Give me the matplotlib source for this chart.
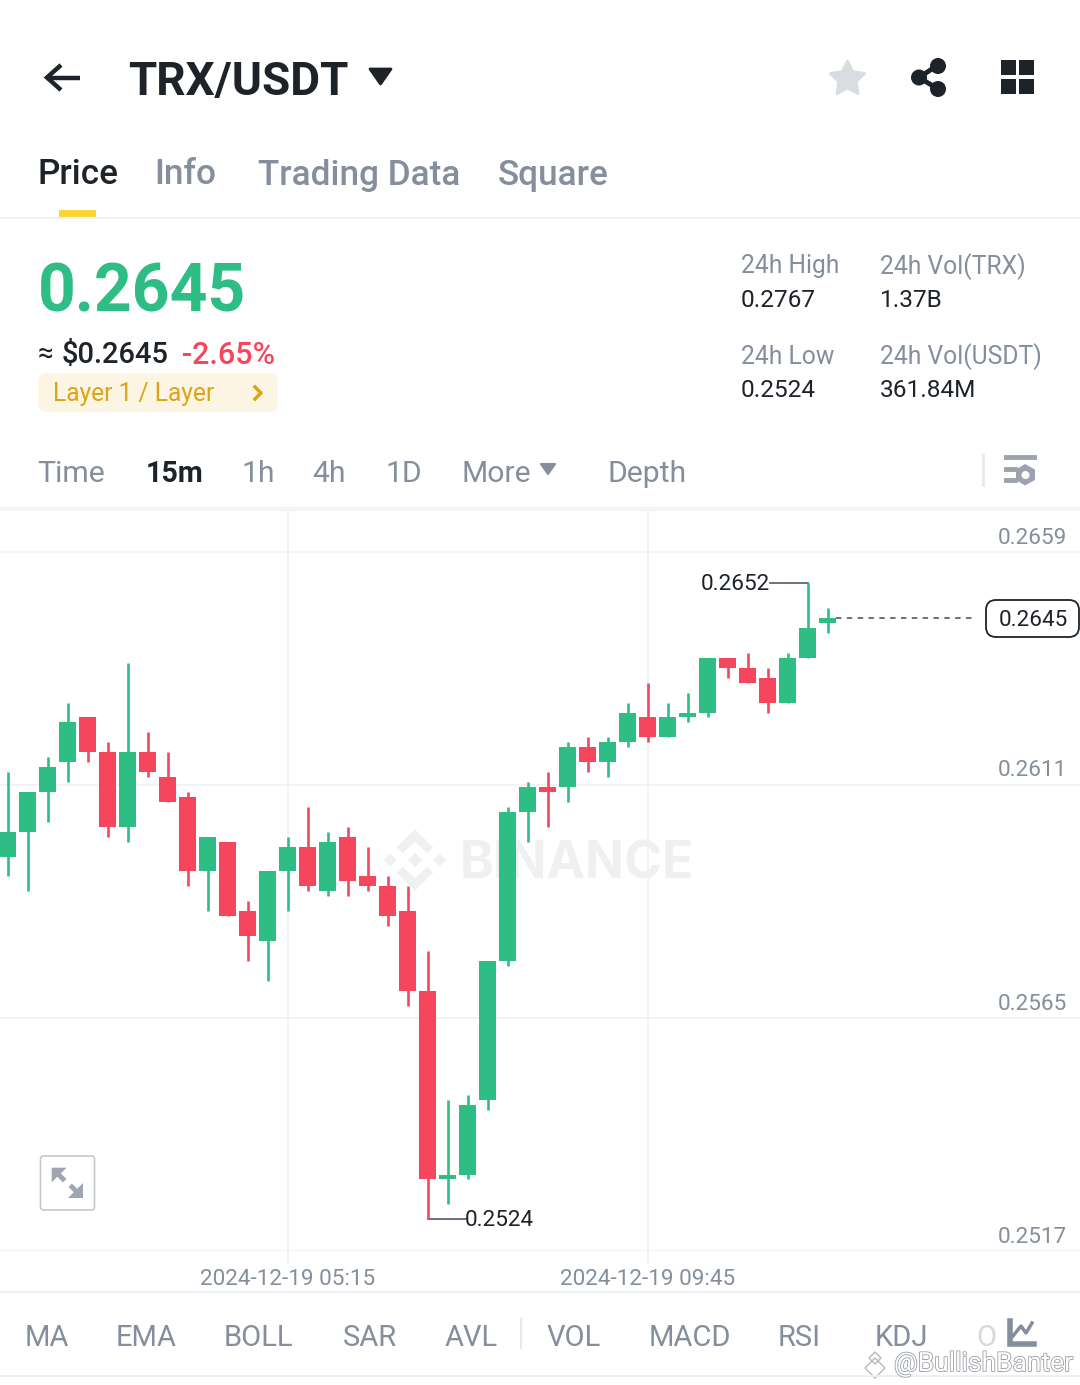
import numpy as np
import matplotlib
matplotlib.use('Agg')
import matplotlib.pyplot as plt
import matplotlib.patheffects as pe
from matplotlib.patches import FancyBboxPatch, Polygon, Rectangle, Circle

plt.rcParams['font.family'] = ['Roboto', 'DejaVu Sans']

# candles, 15m TRX/USDT
opens = [0.2597, 0.2602, 0.2610, 0.2616, 0.2625, 0.2618, 0.2603, 0.2618, 0.2613, 0.2609, 0.2594,
         0.2600, 0.2586, 0.2580, 0.2594, 0.2599, 0.2590, 0.2601, 0.2593, 0.2591, 0.2586, 0.2570,
         0.2532, 0.2533, 0.2548, 0.2576, 0.2606, 0.2611, 0.2611, 0.2619, 0.2616, 0.2620, 0.2625,
         0.2621, 0.2625, 0.2626, 0.2637, 0.2635, 0.2633, 0.2628, 0.2637, 0.2644]
closes = [0.2602, 0.2610, 0.2615, 0.2624, 0.2618, 0.2603, 0.2618, 0.2614, 0.2608, 0.2594, 0.2601,
          0.2585, 0.2581, 0.2594, 0.2599, 0.2591, 0.2600, 0.2592, 0.2591, 0.2585, 0.2570, 0.2532,
          0.2533, 0.2547, 0.2576, 0.2606, 0.2611, 0.2610, 0.2619, 0.2616, 0.2620, 0.2626, 0.2621,
          0.2625, 0.2626, 0.2637, 0.2635, 0.2632, 0.2628, 0.2637, 0.2643, 0.2645]
highs = [0.2614, 0.2610, 0.2617, 0.2628, 0.2625, 0.2620, 0.2636, 0.2622, 0.2618, 0.2610, 0.2601,
         0.2600, 0.2588, 0.2594, 0.2601, 0.2607, 0.2602, 0.2603, 0.2599, 0.2593, 0.2591, 0.2578,
         0.2548, 0.2549, 0.2576, 0.2607, 0.2612, 0.2614, 0.2620, 0.2621, 0.2621, 0.2628, 0.2632,
         0.2628, 0.2630, 0.2637, 0.2637, 0.2638, 0.2635, 0.2638, 0.2652, 0.2647]
lows = [0.2593, 0.2590, 0.2604, 0.2612, 0.2616, 0.2601, 0.2600, 0.2613, 0.2608, 0.2591, 0.2586,
        0.2585, 0.2576, 0.2572, 0.2586, 0.2590, 0.2589, 0.2589, 0.2590, 0.2583, 0.2567, 0.2524,
        0.2527, 0.2532, 0.2546, 0.2575, 0.2600, 0.2603, 0.2608, 0.2614, 0.2613, 0.2619, 0.2620,
        0.2621, 0.2624, 0.2625, 0.2633, 0.2632, 0.2626, 0.2628, 0.2637, 0.2642]

price_ticks = [0.26583, 0.26115, 0.25645, 0.25176]
price_labels = ['0.2659', '0.2611', '0.2565', '0.2517']
date_ticks = [14, 32]
date_labels = ['2024-12-19 05:15', '2024-12-19 09:45']
last_price = 0.2645
high_mark = (40, 0.2652)
low_mark = (21, 0.2524)

tabs = ['Price', 'Info', 'Trading Data', 'Square']
tabs_x = [38, 154, 258, 498]
stat_names = ['24h High', '24h Vol(TRX)', '24h Low', '24h Vol(USDT)']
stat_values = ['0.2767', '1.37B', '0.2524', '361.84M']
stats_x = [741, 880, 741, 880]
stats_y = [266.5, 266.5, 356.5, 356.5]
periods = ['Time', '15m', '1h', '4h', '1D', 'More', 'Depth']
periods_x = [37, 145.5, 241.5, 312.5, 385.5, 461, 607.5]
indicators = ['MA', 'EMA', 'BOLL', 'SAR', 'AVL', 'VOL', 'MACD', 'RSI', 'KDJ']
indicators_x = [24.5, 115.5, 224, 343, 445, 546.5, 649, 778, 875]

GREEN = '#2EBD85'
RED = '#F6465D'
DARK = '#1E2329'
GRAY = '#848E9C'
GRID = '#F0F1F3'

W, H = 1080, 1385
fig = plt.figure(figsize=(W / 100, H / 100), dpi=100, facecolor='white')

# page furniture is placed in pixels
ui = fig.add_axes([0, 0, 1, 1])
ui.set_xlim(0, W)
ui.set_ylim(H, 0)
ui.axis('off')

# header
ui.plot([80, 47], [77.5, 77.5], color=DARK, lw=3.2, solid_capstyle='butt')
ui.plot([61, 47, 61], [65, 77.5, 90], color=DARK, lw=3.2, solid_capstyle='butt', solid_joinstyle='miter')
ui.text(128, 82, 'TRX/USDT', fontsize=33, fontweight='bold', color=DARK, va='center')
ui.add_patch(Polygon([[370, 69], [391, 69], [380.5, 84]], closed=True, fc=DARK, ec=DARK, lw=2, joinstyle='round'))

a = -np.pi / 2 + np.arange(10) * np.pi / 5
r = np.where(np.arange(10) % 2 == 0, 18, 9)
ui.add_patch(Polygon(np.c_[847.5 + r * np.cos(a), 79 + r * np.sin(a)], closed=True,
                     fc='#D9DCE1', ec='#D9DCE1', lw=2, joinstyle='round'))
ui.plot([938, 919, 938], [65, 77.5, 89], color=DARK, lw=3.5)
for cx, cy, rad in [(938, 66, 8), (919, 77.5, 8), (938, 89, 8)]:
    ui.add_patch(Circle((cx, cy), rad, fc=DARK, ec='none'))
for sx in [1000.5, 1019]:
    for sy in [60, 79]:
        ui.add_patch(Rectangle((sx, sy), 15, 15, fc=DARK, ec='none'))

# tabs
for i, name in enumerate(tabs):
    col = DARK if i == 0 else GRAY
    ui.text(tabs_x[i], 175, name, fontsize=25.3, fontweight='medium', color=col, va='center')
ui.add_patch(Rectangle((59, 210), 37, 7, fc='#FCD535', ec='none'))
ui.plot([0, W], [218, 218], color='#EFF0F2', lw=1.5)

# price block
ui.text(38, 293, '0.2645', fontsize=47.5, fontweight='bold', color=GREEN, va='center')
ui.text(38, 355, '≈', fontsize=20, color=DARK, va='center')
ui.text(62, 355, '$0.2645', fontsize=21, fontweight='medium', color=DARK, va='center')
ui.text(182, 355, '-2.65%', fontsize=22, fontweight='medium', color=RED, va='center')
ui.add_patch(FancyBboxPatch((44, 379), 228, 27, boxstyle='round,pad=6,rounding_size=9', fc='#FCF5E3', ec='none'))
ui.text(53, 394.5, 'Layer 1 / Layer', fontsize=17.7, color='#DDA516', va='center')
ui.plot([255, 261, 255], [387, 393, 399], color='#DDA516', lw=2.5)

for i in range(4):
    ui.text(stats_x[i], stats_y[i], stat_names[i], fontsize=17.7, color=GRAY, va='center')
    ui.text(stats_x[i], stats_y[i] + 34, stat_values[i], fontsize=17.6, color=DARK, va='center')

# period row
for i, name in enumerate(periods):
    col = DARK if name == '15m' else GRAY
    wt = 'bold' if name == '15m' else 'normal'
    size = 20.7 if name == '15m' else 21.7
    ui.text(periods_x[i], 474, name, fontsize=size, fontweight=wt, color=col, va='center')
ui.add_patch(Polygon([[541, 464], [555, 464], [548, 474]], closed=True, fc=GRAY, ec=GRAY, lw=1.5, joinstyle='round'))
ui.plot([983, 983], [455, 485], color='#E6E8EA', lw=2)
ui.plot([1006, 1034], [457, 457], color='#9CA3AE', lw=3.5)
ui.plot([1006, 1015], [469, 469], color='#9CA3AE', lw=3.5)
ui.plot([1006, 1015], [480, 480], color='#9CA3AE', lw=3.5)
ui.add_patch(Polygon([[1025, 464], [1035, 469.5], [1035, 480], [1025, 485.5], [1016, 480], [1016, 469.5]],
                     closed=True, fc='#9CA3AE', ec='none'))
ui.add_patch(Circle((1025.5, 475), 4, fc='white', ec='none'))
ui.plot([0, W], [509, 509], color='#F3F4F6', lw=3)

# watermark under the candles
logo = '#EFF0F2'
chevron = np.array([[415, 829.3], [433.3, 847.3], [427.3, 853.3], [415, 841.7], [402.7, 853.3], [396.7, 847.3]])
ui.add_patch(Polygon(chevron, closed=True, fc=logo, ec='none'))
ui.add_patch(Polygon(np.c_[chevron[:, 0], 1720 - chevron[:, 1]], closed=True, fc=logo, ec='none'))
for cx, s in [(390.3, 6.5), (415, 7), (439.7, 6.5)]:
    ui.add_patch(Polygon([[cx - s, 860], [cx, 860 - s], [cx + s, 860], [cx, 860 + s]], closed=True, fc=logo, ec='none'))
ui.text(577, 865, 'BINANCE', fontsize=37, fontweight='bold', family='Inter', color=logo, va='center', ha='center')

# price chart, pixel mapping of the picture: i -> 7.67 + 20 i, price -> 583 + (0.2652 - p) * 49690
top_px, bottom_px = 510, 1251
chart = fig.add_axes([0, 1 - bottom_px / H, 1, (bottom_px - top_px) / H])
chart.patch.set_alpha(0)
chart.set_xlim(-7.67 / 20, (W - 7.67) / 20)
chart.set_ylim(0.2652 - (bottom_px - 583.4) / 49690, 0.2652 + (583.4 - top_px) / 49690)
for s in chart.spines.values():
    s.set_visible(False)

chart.set_yticks(price_ticks)
chart.set_yticklabels([])
chart.tick_params(axis='y', length=0)
chart.set_xticks(date_ticks)
chart.set_xticklabels(date_labels, fontsize=16.2, color=GRAY)
chart.tick_params(axis='x', length=9, width=1.2, color=GRID, pad=3.7)
chart.grid(True, color=GRID, lw=1.2)
chart.set_axisbelow(True)
for p, lab in zip(price_ticks, price_labels):
    chart.annotate(lab, (1, p), xycoords=('axes fraction', 'data'), xytext=(-9.4, 2.3), textcoords='offset points',
                   ha='right', va='bottom', fontsize=16.2, color=GRAY)

idx = np.arange(len(opens))
o = np.array(opens)
c = np.array(closes)
colors = [GREEN if c[i] >= o[i] else RED for i in idx]
chart.vlines(idx, lows, highs, colors=colors, lw=1.9, zorder=3)
chart.bar(idx, np.abs(c - o), bottom=np.minimum(o, c), width=0.87, color=colors, zorder=4)

# high / low marks and last price
chart.plot([high_mark[0] - 1.9, high_mark[0]], [high_mark[1], high_mark[1]], color='#5E6673', lw=1.3, zorder=2)
chart.annotate('0.2652', (high_mark[0] - 1.9, high_mark[1]), xytext=(0, -0.7), textcoords='offset points',
               ha='right', va='center', fontsize=16.2, color=DARK)
chart.plot([low_mark[0], low_mark[0] + 1.9], [low_mark[1], low_mark[1]], color='#5E6673', lw=1.3, zorder=2)
chart.annotate('0.2524', (low_mark[0] + 1.9, low_mark[1]), xytext=(-0.5, -0.7), textcoords='offset points',
               ha='left', va='center', fontsize=16.2, color=DARK)
chart.plot([41.4, 48.2], [last_price, last_price], color='#5E6673', lw=1.3, dashes=(3, 3))

ui2 = fig.add_axes([0, 0, 1, 1])
ui2.set_xlim(0, W)
ui2.set_ylim(H, 0)
ui2.axis('off')
ui2.patch.set_alpha(0)
ui2.add_patch(FancyBboxPatch((992, 606), 81, 25, boxstyle='round,pad=6,rounding_size=10', fc='white', ec=DARK, lw=1.3))
ui2.text(1033, 620.5, f'{last_price:.4f}', fontsize=16.2, color=DARK, ha='center', va='center')

# expand button
ui2.add_patch(FancyBboxPatch((40.5, 1156), 54, 54, boxstyle='round,pad=0,rounding_size=3', fc='white', ec='#C5C9CF', lw=1.2))
icon = '#9FA6B1'
ui2.plot([57, 63], [1173, 1179], color=icon, lw=3.5)
ui2.plot([72, 78], [1187, 1193], color=icon, lw=3.5)
ui2.add_patch(Polygon([[51.7, 1167.7], [66.7, 1167.7], [51.7, 1182.3]], closed=True, fc=icon, ec='none'))
ui2.add_patch(Polygon([[83.3, 1183.3], [83.3, 1198.3], [68.3, 1198.3]], closed=True, fc=icon, ec='none'))

# indicator row
ui2.plot([0, W], [1292, 1292], color='#EFF0F2', lw=1.5)
ui2.plot([0, W], [1376, 1376], color='#EFF0F2', lw=1.5)
for i, name in enumerate(indicators):
    ui2.text(indicators_x[i], 1338, name, fontsize=21, color=GRAY, va='center')
ui2.text(976, 1338, 'O', fontsize=21, color='#D5D8DD', va='center')
ui2.plot([521, 521], [1319, 1348], color='#E6E8EA', lw=1.5)
ui2.plot([1009.5, 1009.5, 1034], [1321, 1344, 1344], color=GRAY, lw=4, solid_joinstyle='miter')
ui2.plot([1013, 1021, 1026, 1032], [1336, 1326, 1333, 1323], color=GRAY, lw=2.5)

# repost watermark
ui2.text(894, 1364, '@BullishBanter', fontsize=19, color='white', va='center',
         path_effects=[pe.withStroke(linewidth=1.2, foreground='#9A9FA6')])
for dy, s in [(-5, 6), (5, 10)]:
    ui2.add_patch(Polygon([[875 - s, 1363 + dy], [875, 1363 + dy - s], [875 + s, 1363 + dy], [875, 1363 + dy + s]],
                          closed=True, fc='none', ec='#B5B9BF', lw=1))

fig.savefig('out.png', dpi=100, facecolor='white')
